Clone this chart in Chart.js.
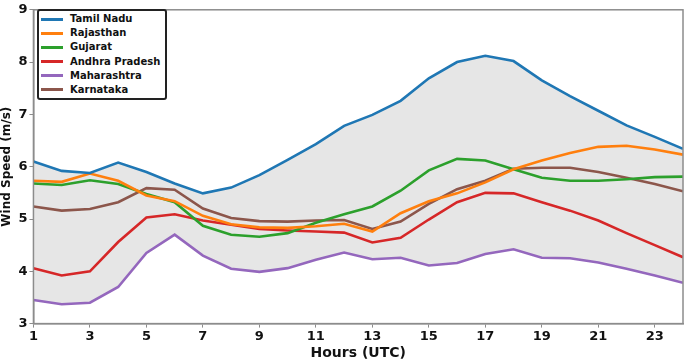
<!DOCTYPE html>
<html>
<head>
<meta charset="utf-8">
<script src="https://cdn.jsdelivr.net/npm/chart.js@4/dist/chart.umd.min.js"></script>
<style>
  body { margin: 0; background: #fff; }
  #wrap { position: relative; width: 685px; height: 362px; }
  #legend {
    position: absolute; left: 37px; top: 9px;
    border: 2px solid #222; border-radius: 3px; background: #fff;
    padding: 1px 5px 1px 2px;
    font: bold 10px "DejaVu Sans", sans-serif; color: #111;
  }
  #legend div { height: 14.2px; line-height: 14.2px; white-space: nowrap; }
  #legend span { display: inline-block; width: 22px; height: 3px; vertical-align: middle; margin-right: 7px; }
</style>
</head>
<body>
<div id="wrap">
  <canvas id="chart" width="685" height="362"></canvas>
  <div id="legend"></div>
</div>
<script>
const hours = [1,2,3,4,5,6,7,8,9,10,11,12,13,14,15,16,17,18,19,20,21,22,23,24];
const hourTicks = [1,3,5,7,9,11,13,15,17,19,21,23];

const tamilNadu   = [6.10,5.92,5.88,6.08,5.90,5.68,5.49,5.60,5.84,6.13,6.43,6.78,6.99,7.26,7.69,8.00,8.12,8.02,7.65,7.35,7.07,6.79,6.57,6.34];
const rajasthan   = [5.73,5.71,5.87,5.73,5.45,5.34,5.06,4.90,4.84,4.83,4.86,4.91,4.76,5.11,5.34,5.49,5.70,5.95,6.12,6.26,6.38,6.40,6.33,6.23];
const gujarat     = [5.68,5.65,5.74,5.67,5.48,5.32,4.87,4.70,4.66,4.73,4.93,5.09,5.24,5.54,5.93,6.15,6.12,5.95,5.79,5.73,5.73,5.76,5.80,5.81];
const andhra      = [4.06,3.92,4.00,4.56,5.03,5.09,4.97,4.89,4.81,4.78,4.76,4.74,4.55,4.64,4.99,5.32,5.50,5.49,5.32,5.16,4.97,4.73,4.50,4.27];
const maharashtra = [3.45,3.37,3.40,3.70,4.35,4.70,4.30,4.05,3.99,4.06,4.22,4.36,4.23,4.26,4.11,4.16,4.33,4.42,4.26,4.25,4.17,4.05,3.92,3.78];
const karnataka   = [5.24,5.16,5.19,5.32,5.59,5.56,5.20,5.02,4.96,4.95,4.97,4.98,4.81,4.95,5.29,5.57,5.73,5.96,5.98,5.98,5.90,5.79,5.67,5.53];

const names  = ['Tamil Nadu','Rajasthan','Gujarat','Andhra Pradesh','Maharashtra','Karnataka'];
const series = [tamilNadu, rajasthan, gujarat, andhra, maharashtra, karnataka];
const colors = ['#1f77b4','#ff7f0e','#2ca02c','#d62728','#9467bd','#8c564b'];

const FONT = '"DejaVu Sans", sans-serif';

// box around the plot, like matplotlib spines
const frame = {
  id: 'frame',
  afterDraw(chart) {
    const { ctx, chartArea: a } = chart;
    ctx.save();
    ctx.strokeStyle = '#8c8c8c';
    ctx.lineWidth = 1.5;
    ctx.strokeRect(a.left, a.top, a.right - a.left, a.bottom - a.top);
    ctx.restore();
  }
};

const datasets = series.map((vals, i) => ({
  label: names[i],
  data: hours.map((h, j) => ({ x: h, y: vals[j] })),
  borderColor: colors[i],
  backgroundColor: '#e6e6e6',
  borderWidth: 2.6,
  pointRadius: 0,
  tension: 0,
  fill: i === 0 ? 4 : false   // shade between Tamil Nadu and Maharashtra
}));

new Chart(document.getElementById('chart'), {
  type: 'line',
  data: { datasets },
  options: {
    responsive: false,
    animation: false,
    layout: { padding: { left: 0, right: 2, top: 5, bottom: 0 } },
    plugins: {
      legend: { display: false },
      tooltip: { enabled: false },
      filler: { drawTime: 'beforeDatasetsDraw' }
    },
    scales: {
      x: {
        type: 'linear', min: 1, max: 24,
        afterBuildTicks: s => { s.ticks = hourTicks.map(v => ({ value: v })); },
        grid: { drawOnChartArea: false, tickLength: 4, color: '#8c8c8c' },
        border: { color: '#8c8c8c', width: 1.5 },
        ticks: { color: '#111', font: { family: FONT, size: 13, weight: 'bold' }, padding: 1, maxRotation: 0 },
        title: { display: true, text: 'Hours (UTC)', color: '#111', font: { family: FONT, size: 14, weight: 'bold' }, padding: { top: 0, bottom: 0 } }
      },
      y: {
        min: 3, max: 9,
        ticks: { stepSize: 1, color: '#111', font: { family: FONT, size: 13, weight: 'bold' }, padding: 2 },
        grid: { drawOnChartArea: false, tickLength: 4, color: '#8c8c8c' },
        border: { color: '#8c8c8c', width: 1.5 },
        title: { display: true, text: 'Wind Speed (m/s)', color: '#111', font: { family: FONT, size: 12, weight: 'bold' }, padding: { top: 0, bottom: 2 } }
      }
    }
  },
  plugins: [frame]
});

const legend = document.getElementById('legend');
names.forEach((n, i) => {
  const row = document.createElement('div');
  row.innerHTML = '<span style="background:' + colors[i] + '"></span>' + n;
  legend.appendChild(row);
});
</script>
</body>
</html>
